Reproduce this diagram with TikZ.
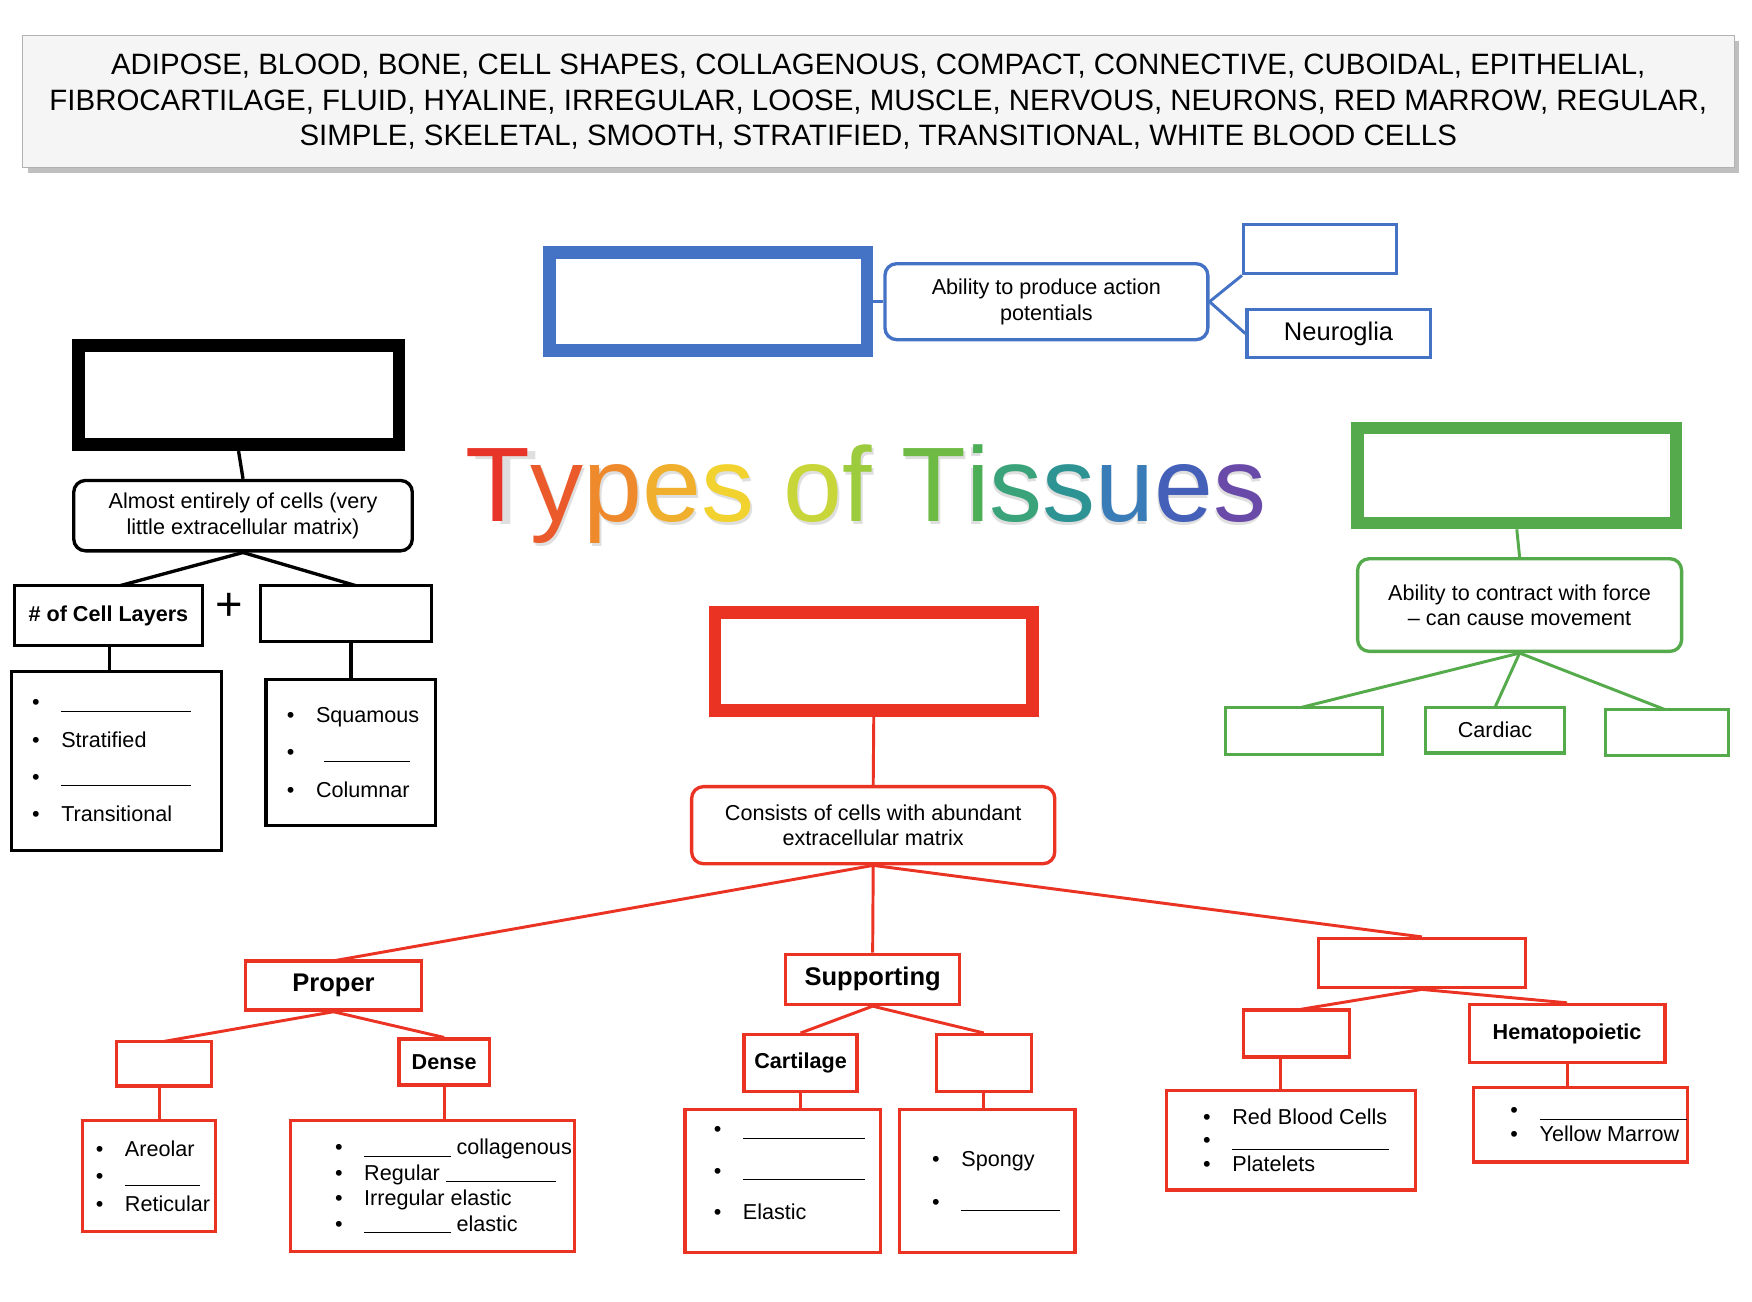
\documentclass[tikz,border=0pt]{standalone}
\usepackage{fontspec}
\setmainfont{Liberation Sans}
\usetikzlibrary{positioning, fit, shadows}
\definecolor{tred}{HTML}{EA3323}
\definecolor{tblue}{HTML}{4472C4}
\definecolor{tgreen}{HTML}{55AB4C}
\tikzset{
    box/.style={draw, line width=1.7pt, inner sep=0pt},
    bigbox/.style={draw, line width=6.5pt, inner sep=0pt},
    rbox/.style={box, rounded corners=6pt},
    txt/.style={align=center, text=black, font=\fontsize{11}{13}\selectfont},
    btxt/.style={txt, font=\bfseries\fontsize{11}{13}\selectfont},
    list/.style={anchor=west, align=left, font=\fontsize{11}{13}\selectfont},
}
\newcommand{\blank}[1]{\rule[-1pt]{#1}{0.5pt}}
\begin{document}
\begin{tikzpicture}[x=0.02cm, y=-0.02cm]
\useasboundingbox (0,0) rectangle (1568,1165);

        % Word bank
        \node (bank) [draw=gray!60, fill=gray!8, drop shadow, inner sep=0pt, fit={(20,32)(1552,150)}] {};
        \node (banktxt) at (bank) [align=center, font=\fontsize{15}{18.2}\selectfont] {ADIPOSE, BLOOD, BONE, CELL SHAPES, COLLAGENOUS, COMPACT, CONNECTIVE, CUBOIDAL, EPITHELIAL,\\
                      FIBROCARTILAGE, FLUID, HYALINE, IRREGULAR, LOOSE, MUSCLE, NERVOUS, NEURONS, RED MARROW, REGULAR,\\
                      SIMPLE, SKELETAL, SMOOTH, STRATIFIED, TRANSITIONAL, WHITE BLOOD CELLS};

        % Title
        \node (shadow) at (778,445) [text=gray!25, font=\fontsize{54}{60}\selectfont] {Types of Tissues};
        \node (title) at (775,442) [font=\fontsize{54}{60}\selectfont] {\textcolor[HTML]{E8352A}{T}\textcolor[HTML]{EA5A2A}{y}\textcolor[HTML]{EE8A2C}{p}\textcolor[HTML]{F0B02E}{e}\textcolor[HTML]{F2D22F}{s} \textcolor[HTML]{C8D63A}{o}\textcolor[HTML]{9CCB3E}{f} \textcolor[HTML]{6DBB44}{T}\textcolor[HTML]{4CAE55}{i}\textcolor[HTML]{3AA37A}{s}\textcolor[HTML]{2E9393}{s}\textcolor[HTML]{3A7CB8}{u}\textcolor[HTML]{4560B8}{e}\textcolor[HTML]{6A4AA8}{s}};

        % Nervous
        \begin{scope}[tblue]
        \node (nerv) [bigbox, fit={(492,226)(776,314)}] {};
        \node (nervd) [rbox, fit={(792,236)(1081,304)}] {};
        \node (neur) [box, fit={(1113,201)(1250,245)}] {};
        \node (glia) [box, fit={(1116,277)(1280,320)}] {};
        \draw[line width=1.5pt] (nerv.east) -- (nervd.west);
        \draw[line width=1.5pt] (nervd.east) -- (neur.south west);
        \draw[line width=1.5pt] (nervd.east) -- (glia.west);
        \end{scope}
        \node at (nervd) [txt] {Ability to produce action\\potentials};
        \node at (glia) [txt, font=\fontsize{13}{15}\selectfont] {Neuroglia};

        % Epithelial
        \node (epi) [bigbox, fit={(70,309)(357,398)}] {};
        \node (epid) [rbox, fit={(66,430)(369,493)}] {};
        \node (layers) [box, fit={(13,524)(181,578)}] {};
        \node (shapes) [box, fit={(233,524)(386,574)}] {};
        \node (laylist) [box, fit={(10,601)(198,761)}] {};
        \node (shplist) [box, fit={(238,608)(390,739)}] {};
        \node at (epid) [txt] {Almost entirely of cells (very\\little extracellular matrix)};
        \node at (layers) [btxt] {\# of Cell Layers};
        \node (plus) at (205,543) [font=\fontsize{24}{24}\selectfont] {+};
        \node [list] at ([xshift=8]laylist.west) {\textbullet\quad\blank{66pt}\\[6pt]\textbullet\quad Stratified\\[6pt]\textbullet\quad\blank{66pt}\\[6pt]\textbullet\quad Transitional};
        \node [list] at ([xshift=8]shplist.west) {\textbullet\quad Squamous\\[6pt]\textbullet\quad\hspace{4pt}\blank{44pt}\\[6pt]\textbullet\quad Columnar};
        \draw[line width=1.7pt] (epi.south) -- (epid.north);
        \draw[line width=1.7pt] (epid.south) -- (108,524);
        \draw[line width=1.7pt] (epid.south) -- (318,524);
        \draw[line width=1.7pt] (98,578) -- (98,601);
        \draw[line width=1.7pt] (shapes.south -| shplist.north) -- (shplist.north);

        % Muscle
        \begin{scope}[tgreen]
        \node (mus) [bigbox, fit={(1215,383)(1500,468)}] {};
        \node (musd) [rbox, fit={(1215,500)(1505,583)}] {};
        \node (skel) [box, fit={(1097,633)(1237,675)}] {};
        \node (card) [box, fit={(1276,633)(1400,674)}] {};
        \node (smooth) [box, fit={(1437,635)(1547,676)}] {};
        \draw[line width=1.5pt] (mus.south) -- (musd.north);
        \draw[line width=1.5pt] (musd.south) -- (1165,633);
        \draw[line width=1.5pt] (musd.south) -- (1338,633);
        \draw[line width=1.5pt] (musd.south) -- (1490,635);
        \end{scope}
        \node at (musd) [txt] {Ability to contract with force\\-- can cause movement};
        \node at (card) [txt] {Cardiac};

        % Connective
        \begin{scope}[tred]
        \node (con) [bigbox, fit={(640,548)(924,636)}] {};
        \node (cond) [rbox, fit={(619,704)(944,773)}] {};
        \node (proper) [box, fit={(220,860)(377,904)}] {};
        \node (supp) [box, fit={(703,854)(859,899)}] {};
        \node (fluid) [box, fit={(1180,840)(1365,884)}] {};
        \draw[line width=1.5pt] (con.south) -- (cond.north);
        \draw[line width=1.5pt] (cond.south) -- (298,860);
        \draw[line width=1.5pt] (cond.south) -- (supp.north);
        \draw[line width=1.5pt] (cond.south) -- (fluid.north);

        \node (loose) [box, fit={(104,932)(189,972)}] {};
        \node (dense) [box, fit={(357,930)(438,971)}] {};
        \node (looselist) [box, fit={(74,1003)(193,1102)}] {};
        \node (denselist) [box, fit={(260,1003)(514,1120)}] {};
        \draw[line width=1.5pt] (proper.south) -- (147,932);
        \draw[line width=1.5pt] (proper.south) -- (dense.north);
        \draw[line width=1.5pt] (143,972) -- (143,1003);
        \draw[line width=1.5pt] (dense.south) -- (dense.south |- denselist.north);

        \node (cart) [box, fit={(666,926)(767,977)}] {};
        \node (bone) [box, fit={(838,926)(923,977)}] {};
        \node (cartlist) [box, fit={(613,993)(788,1121)}] {};
        \node (bonelist) [box, fit={(805,993)(962,1121)}] {};
        \draw[line width=1.5pt] (supp.south) -- (cart.north);
        \draw[line width=1.5pt] (supp.south) -- (bone.north);
        \draw[line width=1.5pt] (716,977) -- (716,993);
        \draw[line width=1.5pt] (880,977) -- (880,993);

        \node (blood) [box, fit={(1113,904)(1208,946)}] {};
        \node (hema) [box, fit={(1315,899)(1490,951)}] {};
        \node (bloodlist) [box, fit={(1044,976)(1267,1065)}] {};
        \node (hemalist) [box, fit={(1319,973)(1510,1040)}] {};
        \draw[line width=1.5pt] (fluid.south) -- (1160,904);
        \draw[line width=1.5pt] (fluid.south) -- (hema.north);
        \draw[line width=1.5pt] (1146,946) -- (1146,976);
        \draw[line width=1.5pt] (hema.south) -- (hema.south |- hemalist.north);
        \end{scope}
        \node at (cond) [txt] {Consists of cells with abundant\\extracellular matrix};
        \node at (proper) [btxt, font=\bfseries\fontsize{13}{15}\selectfont] {Proper};
        \node at (supp) [btxt, font=\bfseries\fontsize{13}{15}\selectfont] {Supporting};
        \node at (dense) [btxt] {Dense};
        \node at (cart) [btxt] {Cartilage};
        \node at (hema) [btxt] {Hematopoietic};

        % Lists
        \node [list] at ([xshift=4]looselist.west) {\textbullet\quad Areolar\\[1pt]\textbullet\quad\blank{38pt}\\[1pt]\textbullet\quad Reticular};
        \node [list] at ([xshift=20]denselist.west) {\textbullet\quad\blank{44pt} collagenous\\\textbullet\quad Regular \blank{56pt}\\\textbullet\quad Irregular elastic\\\textbullet\quad\blank{44pt} elastic};
        \node [list] at ([xshift=12,yshift=4]cartlist.west) {\textbullet\quad\blank{62pt}\\[8pt]\textbullet\quad\blank{62pt}\\[8pt]\textbullet\quad Elastic};
        \node [list] at ([xshift=14]bonelist.west) {\textbullet\quad Spongy\\[9pt]\textbullet\quad\blank{50pt}};
        \node [list] at ([xshift=16]bloodlist.west) {\textbullet\quad Red Blood Cells\\[-1pt]\textbullet\quad\blank{80pt}\\[-1pt]\textbullet\quad Platelets};
        \node [list] at ([xshift=16]hemalist.west) {\textbullet\quad\blank{75pt}\\[-1pt]\textbullet\quad Yellow Marrow};

\end{tikzpicture}
\end{document}
